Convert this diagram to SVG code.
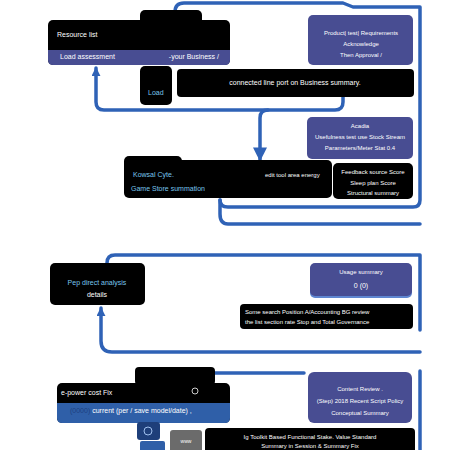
<svg xmlns="http://www.w3.org/2000/svg" width="450" height="450" viewBox="0 0 450 450">
<defs>
<style>
.blk{fill:#000}
.pur{fill:#484d92}
.blu{fill:#2f5fa8}
.con{fill:none;stroke:#2f62b6;stroke-width:3.5;stroke-linecap:round;stroke-linejoin:round}
.t{font-family:"Liberation Sans",Arial,sans-serif;font-size:7px;fill:#fff}
.s{font-size:6px}
.c{fill:#79c6ee}
.m{text-anchor:middle}
.e{text-anchor:end}
</style>
<marker id="ah" viewBox="0 0 10 10" refX="9" refY="5" markerUnits="userSpaceOnUse" markerWidth="9" markerHeight="9" orient="auto">
<path d="M0,0L10,5L0,10z" fill="#2f62b6"/>
</marker>
<marker id="ahb" viewBox="0 0 10 10" refX="9" refY="5" markerUnits="userSpaceOnUse" markerWidth="14" markerHeight="17" orient="auto">
<path d="M0,0L10,5L0,10z" fill="#2f62b6"/>
</marker>
</defs>
<rect width="450" height="450" fill="#fff"/>
<g id="connectors">
<path class="con" d="M175,12 Q175,3 184,3 H343 L353,7 H420 V200 Q420,207 413,207 H228 Q220,207 220,200"/>
<path class="con" d="M420,224 H228 Q220,224 220,214 V200"/>
<path class="con" d="M343,97 V102 Q343,110 335,110 H104 Q96,110 96,102 V68" marker-end="url(#ah)"/>
<path class="con" d="M268,110 Q260,110 260,118 V160" marker-end="url(#ahb)"/>
<path class="con" d="M107,263 Q107,255 115,255 H420 V330"/>
<path class="con" d="M420,352 H112 Q101,352 101,341 V308" marker-end="url(#ah)"/>
<path class="con" d="M215,373 H304"/>
<path class="con" d="M420,371 V450"/>
</g>
<g id="node-resource">
<rect class="blk" x="140" y="10" width="62" height="20" rx="5"/>
<rect class="blk" x="48" y="20" width="182" height="45" rx="5"/>
<path class="pur" d="M48,50 H230 V60 Q230,65 225,65 H53 Q48,65 48,60 Z"/>
<text class="t" x="57" y="37">Resource list</text>
<text class="t" x="60" y="59">Load assessment</text>
<text class="t e" x="219" y="59">-your Business /</text>
</g>
<g id="node-load">
<rect class="blk" x="140" y="66" width="32" height="39" rx="5"/>
<text class="t c" x="148" y="95">Load</text>
</g>
<g id="node-connected">
<rect class="blk" x="177" y="69" width="237" height="28" rx="4"/>
<text class="t m" x="295" y="85">connected line port on Business summary.</text>
</g>
<g id="node-product">
<rect class="pur" x="308" y="15" width="105" height="50" rx="5"/>
<text class="t s m" x="361" y="35">Product| test| Requirements</text>
<text class="t s m" x="361" y="46">Acknowledge</text>
<text class="t s m" x="361" y="57">Then Approval /</text>
</g>
<g id="node-kowsal">
<rect class="blk" x="124" y="156" width="58" height="14" rx="5"/>
<rect class="blk" x="124" y="160" width="208" height="38" rx="5"/>
<text class="t c" x="133" y="177">Kowsal Cyte.</text>
<text class="t c" x="131" y="191">Game Store summation</text>
<text class="t s" x="265" y="177">edit tool area energy</text>
</g>
<g id="node-acadia">
<rect class="pur" x="307" y="117" width="106" height="42" rx="5"/>
<text class="t s m" x="360" y="128">Acadia</text>
<text class="t s m" x="360" y="139">Usefulness test use Stock Stream</text>
<text class="t s m" x="360" y="150">Parameters/Meter Stat 0.4</text>
</g>
<g id="node-feedback">
<rect class="blk" x="333" y="163" width="80" height="36" rx="5"/>
<text class="t s m" x="373" y="174">Feedback source Score</text>
<text class="t s m" x="373" y="185">Sleep plan Score</text>
<text class="t s m" x="373" y="195">Structural summary</text>
</g>
<g id="node-pep">
<rect class="blk" x="50" y="263" width="95" height="42" rx="5"/>
<text class="t c m" x="97" y="285">Pep direct analysis</text>
<text class="t m" x="97" y="297">details</text>
</g>
<g id="node-usage">
<rect fill="#5f86d0" x="310" y="264" width="102" height="34" rx="5"/>
<rect class="pur" x="310" y="263" width="102" height="33" rx="5"/>
<text class="t s m" x="361" y="274">Usage summary</text>
<text class="t m" x="361" y="288">0 (0)</text>
</g>
<g id="node-search">
<rect class="blk" x="240" y="304" width="173" height="25" rx="4"/>
<text class="t s" x="245" y="314">Some search Position A/Accounting BG review</text>
<text class="t s" x="245" y="324">the list section rate Stop and Total Governance</text>
</g>
<g id="node-power">
<rect class="blk" x="135" y="367" width="80" height="18" rx="4"/>
<rect class="blk" x="57" y="383" width="173" height="40" rx="5"/>
<path class="blu" d="M57,403 H230 V418 Q230,423 225,423 H62 Q57,423 57,418 Z"/>
<text class="t" x="61" y="395">e-power cost Fix</text>
<circle cx="195" cy="391" r="3" fill="none" stroke="#ccc" stroke-width="1"/>
<text class="t" x="70" y="413"><tspan fill="#1d3f80">(0000)</tspan> current (per / save model/date) ,</text>
</g>
<g id="node-icon">
<rect fill="#1e3f7a" x="137" y="422" width="23" height="18" rx="3"/>
<circle cx="148" cy="431" r="4" fill="none" stroke="#9fc0ee" stroke-width="1"/>
<rect class="blu" x="140" y="441" width="25" height="12" rx="2"/>
</g>
<g id="node-www">
<rect fill="#6b6b6b" x="170" y="430" width="32" height="24" rx="3"/>
<text class="t m" x="186" y="443" style="font-size:5px">www</text>
</g>
<g id="node-toolkit">
<rect class="blk" x="205" y="428" width="210" height="28" rx="4"/>
<text class="t s m" x="310" y="439">Ig Toolkit Based Functional Stake. Value Standard</text>
<text class="t s m" x="310" y="448">Summary in Session &amp; Summary Fix</text>
</g>
<g id="node-content">
<rect class="pur" x="308" y="372" width="104" height="51" rx="6"/>
<text class="t s m" x="360" y="391">Content Review .</text>
<text class="t s m" x="360" y="403">(Step) 2018 Recent Script Policy</text>
<text class="t s m" x="360" y="415">Conceptual Summary</text>
</g>
</svg>
